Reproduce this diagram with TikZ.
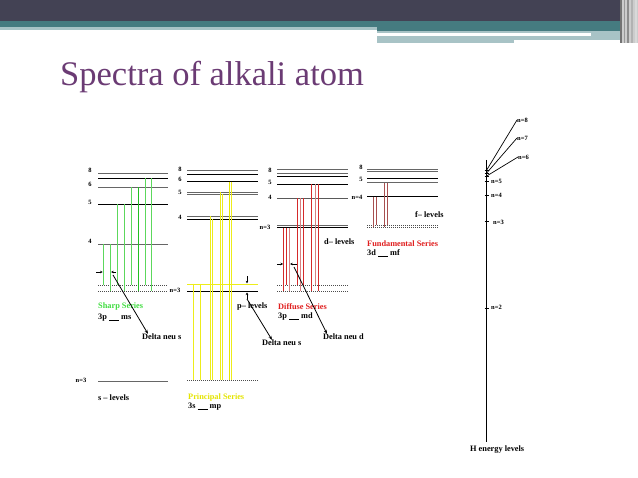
\documentclass[tikz,border=0pt]{standalone}
\usepackage{fontspec}
\setmainfont{Liberation Serif}
\usetikzlibrary{arrows.meta}
\definecolor{hdark}{HTML}{434254}
\definecolor{hteal}{HTML}{457B80}
\definecolor{hlight}{HTML}{A8C3C6}
\definecolor{ttl}{HTML}{6B3B74}
\definecolor{gline}{HTML}{5CD85C}
\definecolor{gbright}{HTML}{22C022}
\definecolor{yline}{HTML}{EDED1A}
\definecolor{ybright}{HTML}{E6E600}
\definecolor{rline}{HTML}{D42A2A}
\definecolor{rpale}{HTML}{D98080}
\definecolor{fline}{HTML}{A85050}
\definecolor{gtext}{HTML}{3FDD3F}
\definecolor{ytext}{HTML}{E5E500}
\definecolor{rtext}{HTML}{E01E1E}
\tikzset{
  lg/.style={draw=black!60, line width=0.7pt},
  lk/.style={draw=black, line width=1.2pt},
  ld/.style={draw=black!70, line width=0.6pt, dash pattern=on 1pt off 1pt},
  num/.style={font=\fontsize{6.5}{6.5}\selectfont\bfseries, inner sep=0pt},
  txt/.style={font=\fontsize{8.3}{9}\selectfont\bfseries, inner sep=0pt, anchor=west},
  arr/.style={-{Stealth[length=4pt,width=3pt]}, line width=0.8pt},
  sarr/.style={-{Stealth[length=2.5pt,width=2.5pt]}, line width=0.6pt},
  trg/.style={line width=1pt, draw=gline},
  try/.style={line width=1pt, draw=yline},
  trr/.style={line width=1pt, draw=rline},
  trp/.style={line width=1pt, draw=rpale},
  trf/.style={line width=1pt, draw=fline},
  tick/.style={line width=0.5pt}
}
\newcommand{\blank}{\rule[-0.6pt]{10pt}{0.5pt}}
\begin{document}
\begin{tikzpicture}[x=1pt,y=-1pt]
\fill[white] (0,0) rectangle (638,478);
\useasboundingbox (0,0) rectangle (638,478);
% header
\fill[hdark] (0,0) rectangle (638,21);
\fill[hteal] (0,21) rectangle (620,27);
\fill[hlight] (0,27) rectangle (377,30);
\fill[hteal] (377,27) rectangle (620,31);
\fill[hlight] (377,31) rectangle (620,40);
\fill[white] (377,33.3) rectangle (591,35.7);
\fill[hlight] (377,40) rectangle (514,43);
\fill[black!20] (620,0) rectangle (638,43);
\fill[black!55] (620,0) rectangle (622,43);
\fill[black!40] (623.5,0) rectangle (625,43);
\fill[black!45] (627,0) rectangle (629,43);
\fill[black!30] (631,0) rectangle (632.5,43);
\fill[black!15] (635,0) rectangle (636.5,43);
% title
\node[anchor=base west, inner sep=0pt, text=ttl, font=\fontsize{34.5}{40}\selectfont] (title) at (60,86) {Spectra of alkali atom};

% ---------- Sharp series / s-levels ----------
\foreach \y/\s in {173.3/lg,178.3/lk,187.3/lg,204.3/lk,244/lg} \draw[\s] (98,\y) -- (168,\y);
\draw[ld] (98,285) -- (168,285);
\draw[ld] (98,291) -- (168,291);
\draw[trg] (103.5,244) -- (103.5,285);
\draw[trg] (110.5,244) -- (110.5,291);
\draw[trg] (117.5,204.3) -- (117.5,285);
\draw[trg] (124.5,204.3) -- (124.5,291);
\draw[trg] (131.5,187.3) -- (131.5,285);
\draw[trg, draw=gbright] (138.5,187.3) -- (138.5,291);
\draw[trg] (145.5,178.3) -- (145.5,285);
\draw[trg] (151.5,178.3) -- (151.5,291);
\node[num] (s8) at (90,170) {8};
\node[num] (s6) at (90,184.3) {6};
\node[num] (s5) at (90,202) {5};
\node[num] (s4) at (90,241) {4};
\coordinate (sa1) at (96,272);
\coordinate (sa1e) at (102.6,272);
\coordinate (sa2) at (116,272);
\coordinate (sa2e) at (111.2,272);
\draw[sarr] (sa1) -- (sa1e);
\draw[sarr] (sa2) -- (sa2e);
\node[txt, text=gtext] (sharp) at (98,307) {Sharp Series};
\node[txt] (sharpf) at (98,318) {3p \blank\ ms};
\node[txt] (ds1) at (142,337) {Delta neu s};
\coordinate (sa3) at (113,275);
\draw[arr] (sa3) -- ([xshift=6]ds1.north west);
\node[num] (sn3) at (81,380) {n=3};
\draw[lg, line width=0.6pt] (98,381) -- (168,381);
\node[txt] (slev) at (98,398) {s -- levels};

% ---------- Principal series / p-levels ----------
\foreach \y/\s in {170/lg,174.3/lk,181.7/lk,192.3/lg,194.5/lg,216/lg,219.3/lk,291.7/lk} \draw[\s] (187,\y) -- (258,\y);
\draw[line width=0.8pt, draw=yline] (187,284) -- (258,284);
\draw[ld] (187,380) -- (258,380);
\draw[try] (193.5,284) -- (193.5,380);
\draw[try] (200.5,284) -- (200.5,380);
\draw[try] (210.5,216) -- (210.5,380);
\draw[try] (212.5,219.3) -- (212.5,380);
\draw[try] (220.5,192.3) -- (220.5,380);
\draw[try] (222.5,194.5) -- (222.5,380);
\draw[try, draw=ybright] (229.5,181.7) -- (229.5,380);
\draw[try] (231.5,181.7) -- (231.5,380);
\node[num] (p8) at (180,169) {8};
\node[num] (p6) at (180,179) {6};
\node[num] (p5) at (180,192) {5};
\node[num] (p4) at (180,217) {4};
\node[num] (pn3) at (175,290) {n=3};
\coordinate (pa1) at (247,276.5);
\coordinate (pa1e) at (247,283.3);
\coordinate (pa2) at (247,299);
\coordinate (pa2e) at (247,292.5);
\draw[sarr] (pa1) -- (pa1e);
\draw[sarr] (pa2) -- (pa2e);
\node[txt] (plev) at (237,307) {p-- levels};
\node[txt, text=ytext] (princ) at (188,398) {Principal Series};
\node[txt] (princf) at (188,407) {3s \blank\ mp};
\node[txt] (ds2) at (262,343) {Delta neu s};
\draw[arr] (pa2) -- ([xshift=10]ds2.north west);

% ---------- Diffuse series / d-levels ----------
\foreach \y/\s in {169/lg,173.3/lg,176.7/lk,184.3/lk,225/lg,227.7/lk} \draw[\s] (277,\y) -- (348,\y);
\draw[draw=black!65, line width=1.6pt] (277,198.5) -- (348,198.5);
\draw[ld] (277,285) -- (348,285);
\draw[ld] (277,291) -- (348,291);
\draw[trr] (283.5,227.7) -- (283.5,291);
\draw[trr] (286.5,227.7) -- (286.5,285);
\draw[trp] (289.5,227.7) -- (289.5,291);
\draw[trr] (297.5,198.5) -- (297.5,285);
\draw[trp] (300.5,198.5) -- (300.5,291);
\draw[trr] (303.5,198.5) -- (303.5,285);
\draw[trr] (311.5,184.3) -- (311.5,291);
\draw[trp] (315.5,184.3) -- (315.5,285);
\draw[trr] (318.5,184.3) -- (318.5,291);
\node[num] (d8) at (270,170) {8};
\node[num] (d5) at (270,182) {5};
\node[num] (d4) at (270,197) {4};
\node[num] (dn3) at (265,227) {n=3};
\coordinate (da1) at (277,264);
\coordinate (da1e) at (283,264);
\coordinate (da2) at (297,264);
\coordinate (da2e) at (290.2,264);
\draw[sarr] (da1) -- (da1e);
\draw[sarr] (da2) -- (da2e);
\node[txt] (dlev) at (324,242) {d-- levels};
\node[txt, text=rtext] (diff) at (278,307) {Diffuse Series};
\node[txt] (difff) at (278,317) {3p \blank\ md};
\node[txt] (dd) at (323,337) {Delta neu d};
\coordinate (da3) at (294,267);
\draw[arr] (da3) -- ([xshift=4]dd.north west);

% ---------- Fundamental series / f-levels ----------
\foreach \y/\s in {169/lg,171.7/lg,178.3/lk,182.7/lg,196.7/lk} \draw[\s] (367,\y) -- (438,\y);
\draw[ld] (367,225) -- (438,225);
\draw[ld] (367,227.3) -- (438,227.3);
\draw[trf] (373.5,196.7) -- (373.5,227.3);
\draw[trf] (376.5,196.7) -- (376.5,225);
\draw[trf] (384.5,182.7) -- (384.5,227.3);
\draw[trf] (387.5,182.7) -- (387.5,225);
\node[num] (f8) at (361,167) {8};
\node[num] (f5) at (361,179) {5};
\node[num] (fn4) at (357,197) {n=4};
\node[txt] (flev) at (415,215) {f-- levels};
\node[txt, text=rtext] (fund) at (367,244) {Fundamental Series};
\node[txt] (fundf) at (367,253) {3d \blank\ mf};

% ---------- Hydrogen levels ----------
\coordinate (htop) at (486.7,160);
\coordinate (hbot) at (486.7,442);
\draw[line width=1pt] (htop) -- (hbot);
\foreach \y in {170,173,176,181,195.7,221.7,308} \draw[tick] (484.5,\y) -- (489,\y);
\node[num, anchor=west] (h8) at (517,120) {n=8};
\node[num, anchor=west] (h7) at (517,138) {n=7};
\node[num, anchor=west] (h6) at (518,157) {n=6};
\node[num, anchor=west] (h5) at (491,181) {n=5};
\node[num, anchor=west] (h4) at (491,195) {n=4};
\node[num, anchor=west] (h3) at (493,222) {n=3};
\node[num, anchor=west] (h2) at (491,307) {n=2};
\coordinate (hl8) at (486.7,170);
\coordinate (hl7) at (486.7,173);
\coordinate (hl6) at (486.7,176);
\draw[line width=0.7pt] (hl8) -- (h8.west);
\draw[line width=0.7pt] (hl7) -- (h7.west);
\draw[line width=0.7pt] (hl6) -- (h6.west);
\node[txt] (hlev) at (470,450) {H energy levels};
\end{tikzpicture}
\end{document}
